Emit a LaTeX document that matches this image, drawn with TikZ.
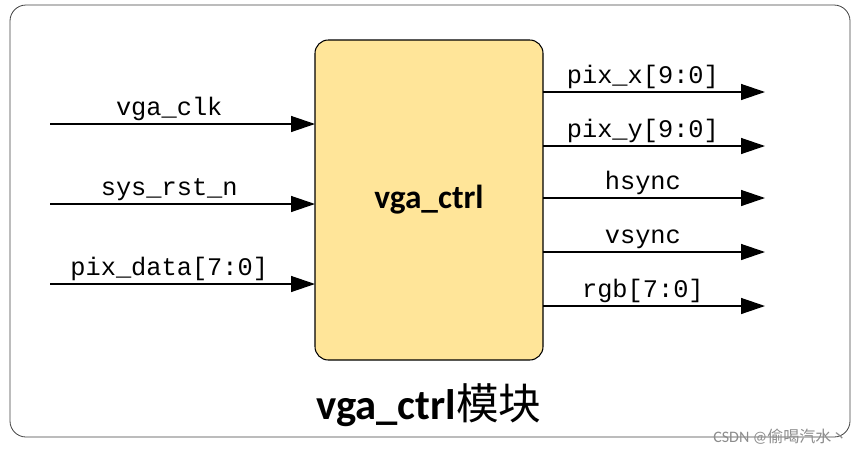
\documentclass[tikz,border=0pt]{standalone}
\usepackage{fontspec}
\setmainfont{Carlito}
\newfontfamily\monof{Liberation Mono}
\newfontfamily\cjk{Noto Sans CJK SC}
\usetikzlibrary{arrows.meta}
\begin{document}
\begin{tikzpicture}[x=0.75pt,y=-0.75pt,
  sig/.style={-{Triangle[length=24pt*0.75,width=16pt*0.75]},line width=1pt},
  lab/.style={font=\monof\fontsize{19}{21}\selectfont,anchor=south,inner sep=2pt}]
\useasboundingbox (0,0) rectangle (857,454);
\draw[rounded corners=12pt,line width=0.6pt,draw=black!75] (10,5) rectangle (850,437);
\node[draw,fill={rgb,255:red,255;green,229;blue,153},rounded corners=10pt,line width=0.8pt,minimum width=228*0.75pt,minimum height=320*0.75pt,font=\bfseries\fontsize{25}{28}\selectfont] (m) at (429,200) {vga\_ctrl};
\foreach \n/\y/\t in {a/124/vga\_clk,b/204/sys\_rst\_n,c/284/pix\_data[7:0]}{
  \coordinate (s\n) at (50,\y);
  \coordinate (e\n) at (315,\y);
  \draw[sig] (s\n) -- (e\n) node[lab,pos=0.45] {\t};}
\foreach \n/\y/\t in {p/92/pix\_x[9:0],q/146/pix\_y[9:0],r/198/hsync,s/252/vsync,t/306/rgb[7:0]}{
  \coordinate (s\n) at (543,\y);
  \coordinate (e\n) at (765,\y);
  \draw[sig] (s\n) -- (e\n) node[lab,pos=0.45] {\t};}
\node[font=\bfseries\fontsize{32}{36}\selectfont] (title) at (429,405) {vga\_ctrl{\cjk\mdseries 模块}};
\node[font=\fontsize{12}{14}\selectfont,text=black!45,anchor=east] (wm) at (852,437) {CSDN @{\cjk 偷喝汽水丶}};
\end{tikzpicture}
\end{document}
